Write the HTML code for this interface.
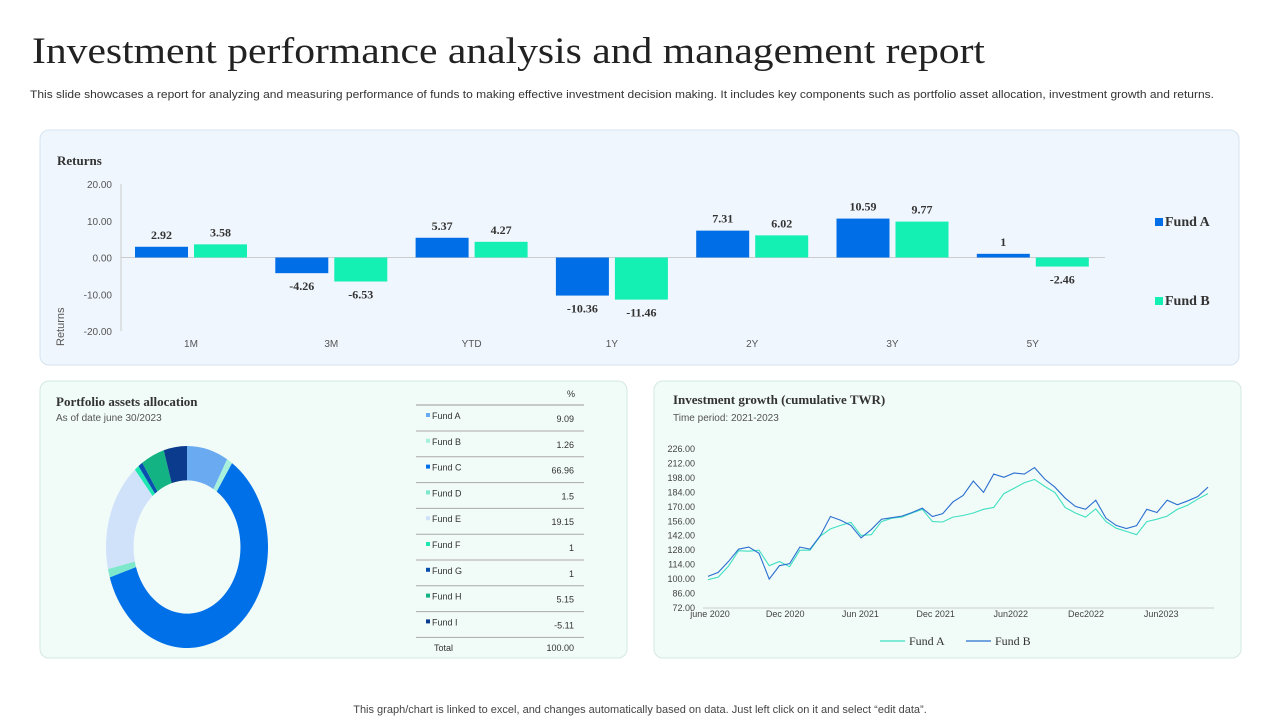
<!DOCTYPE html>
<html><head><meta charset="utf-8"><style>
body{margin:0;background:#fff;}
svg{display:block;font-family:"Liberation Sans",sans-serif;}
.serif{font-family:"Liberation Serif",serif;}
</style></head><body>
<svg id="page" width="1280" height="720" viewBox="0 0 1280 720">
<text class="serif" x="32" y="63" font-size="37" fill="#222" textLength="953" lengthAdjust="spacingAndGlyphs">Investment performance analysis and management report</text>
<text x="30" y="98" font-size="11" fill="#333" textLength="1184" lengthAdjust="spacingAndGlyphs">This slide showcases a report for analyzing and measuring performance of funds to making effective investment decision making. It includes key components such as portfolio asset allocation, investment growth and returns.</text>

<rect x="40" y="130" width="1199" height="235" rx="9" fill="#f0f6fd" stroke="#d5e3ef"/>
<text class="serif" x="57" y="165" font-size="13" font-weight="bold" fill="#333">Returns</text>
<g id="bars"></g>

<rect x="40" y="381" width="587" height="277" rx="9" fill="#f1fbf8" stroke="#d3e8e1"/>
<text class="serif" x="56" y="406" font-size="13" font-weight="bold" fill="#333">Portfolio assets allocation</text>
<text x="56" y="421" font-size="10" fill="#555">As of date june  30/2023</text>
<g id="donut"></g>
<g id="table"></g>

<rect x="654" y="381" width="587" height="277" rx="9" fill="#f1fbf8" stroke="#d3e8e1"/>
<text class="serif" x="673" y="404" font-size="13" font-weight="bold" fill="#333">Investment growth (cumulative TWR)</text>
<text x="673" y="421" font-size="10" fill="#555">Time  period: 2021-2023</text>
<g id="lines"></g>

<text x="640" y="713" font-size="11" fill="#444" text-anchor="middle">This graph/chart is linked to excel,  and changes automatically based on data. Just left click on it and select “edit data”.</text>
</svg>
<script>
const NS='http://www.w3.org/2000/svg';
const categories=['1M','3M','YTD','1Y','2Y','3Y','5Y'];
const fundA=[2.92,-4.26,5.37,-10.36,7.31,10.59,1];
const fundB=[3.58,-6.53,4.27,-11.46,6.02,9.77,-2.46];
const yTicks=[20,10,0,-10,-20];
const fundNames=['Fund A','Fund B','Fund C','Fund D','Fund E','Fund F','Fund G','Fund H','Fund I'];
const allocation=[9.09,1.26,66.96,1.5,19.15,1,1,5.15,-5.11];
const growthA=[99.4,101.9,112.4,127.5,127,128,113,117,112,128,128,141.6,148.6,152,155,142.3,143,155.7,159,160,164,167.6,155.7,155.3,160,161.6,164,167.6,169.4,182.8,188,193.3,196.5,189.8,183.8,169.4,164,160,168,155.7,149.3,146.2,143,155.7,158,161,167.6,171.5,177.5,182.8];
const growthB=[102.6,106.5,117,129,131,125,100,113,115,131,129,142,160.6,157,152,140,148,158,159.5,161,164.5,168.7,160.6,163.4,174.7,181,195,184,201.7,198.6,202.8,201.7,208,196.8,189,178.5,170.4,167.6,176.4,159,152,149,151.8,167.6,164.5,176.4,172,175.7,180,189];
const growthTicks=[226,212,198,184,170,156,142,128,114,100,86,72];
const growthXLabels=['june 2020','Dec 2020','Jun 2021','Dec 2021','Jun2022','Dec2022','Jun2023'];

function mk(tag,attrs,parent,txt){const e=document.createElementNS(NS,tag);for(const k in attrs)e.setAttribute(k,attrs[k]);if(txt!==undefined)e.textContent=txt;parent.appendChild(e);return e;}

// Bars
const bars=document.getElementById('bars');
const by=v=>257.5-v*3.675;
const bx=i=>191+i*140.3;
yTicks.forEach(t=>{const e=mk('text',{x:112,y:by(t)+4,'font-size':10,fill:'#555','text-anchor':'end'},bars,t.toFixed(2));

});
mk('line',{x1:121,y1:by(20),x2:121,y2:by(-20),stroke:'#ccc'},bars);
mk('line',{x1:121,y1:by(0),x2:1105,y2:by(0),stroke:'#ccc'},bars);
const yt=mk('text',{x:0,y:0,'font-size':11,fill:'#555',transform:'translate(64,346) rotate(-90)'},bars,'Returns');


categories.forEach((c,i)=>{
  const l=mk('text',{x:bx(i),y:347,'font-size':10,fill:'#555','text-anchor':'middle'},bars,c);
  
  
  [[fundA[i],-56,'#006ee6'],[fundB[i],3,'#14efb4']].forEach(([v,off,col])=>{
    const x=bx(i)+off;
    const r=mk('rect',{x:x,y:Math.min(by(v),by(0)),width:53,height:Math.abs(by(v)-by(0)),fill:col},bars);
    
    
    const ly=v>=0?by(v)-8:by(v)+17;
    const t=mk('text',{x:x+26.5,y:ly,'font-size':12,'font-weight':'bold',fill:'#333','text-anchor':'middle','font-family':'Liberation Serif,serif'},bars,String(v));
    
    
  });
});
[['Fund A',222,'#006ee6'],['Fund B',301,'#14efb4']].forEach(([n,y,col])=>{
  const g=mk('g',{},bars);
  
  
  mk('rect',{x:1155,y:y-4,width:8,height:8,fill:col},g);
  mk('text',{x:1165,y:y+4,'font-size':14,'font-weight':'bold',fill:'#333','font-family':'Liberation Serif,serif'},g,n);
});

// Donut
const donut=document.getElementById('donut');
const dcols=['#6aaaf0','#a6f0dc','#0070e8','#7de8cc','#cfe2fa','#1ee6b0','#0a4fb0','#14b383','#0b3b8c'];
const tot=allocation.reduce((s,v)=>s+Math.abs(v),0);
const cx=187,cy=547,rx=81,ry=101,k=0.66;
let a0=0;
allocation.forEach((v,i)=>{
  const a1=a0+Math.abs(v)/tot*2*Math.PI;
  const p=(a,f)=>[cx+rx*f*Math.sin(a),cy-ry*f*Math.cos(a)];
  const [x0,y0]=p(a0,1),[x1,y1]=p(a1,1),[x2,y2]=p(a1,k),[x3,y3]=p(a0,k);
  const lg=(a1-a0)>Math.PI?1:0;
  const s=mk('path',{d:`M${x0},${y0}A${rx},${ry} 0 ${lg} 1 ${x1},${y1}L${x2},${y2}A${rx*k},${ry*k} 0 ${lg} 0 ${x3},${y3}Z`,fill:dcols[i]},donut);
  
  
  a0=a1;
});

// Table
const table=document.getElementById('table');
mk('text',{x:571,y:397,'font-size':9,fill:'#333','text-anchor':'middle'},table,'%');
mk('line',{x1:416,y1:405,x2:584,y2:405,stroke:'#999'},table);
fundNames.forEach((n,i)=>{
  const y=419+i*25.8;
  mk('rect',{x:426,y:y-6,width:4,height:4,fill:dcols[i]},table);
  const t=mk('text',{x:432,y:y,'font-size':9,fill:'#333'},table,n);
  
  
  mk('text',{x:574,y:y+3,'font-size':9,fill:'#333','text-anchor':'end'},table,String(allocation[i]));
  mk('line',{x1:416,y1:y+12,x2:584,y2:y+12,stroke:'#aaa'},table);
});
mk('text',{x:434,y:651,'font-size':9,fill:'#333'},table,'Total');
mk('text',{x:574,y:651,'font-size':9,fill:'#333','text-anchor':'end'},table,'100.00');

// Lines
const lines=document.getElementById('lines');
const ly=v=>449+(226-v)*(159/154);
const lx=i=>708+i*(500/(growthA.length-1));
growthTicks.forEach(t=>{const e=mk('text',{x:695,y:ly(t)+3,'font-size':9,fill:'#444','text-anchor':'end'},lines,t.toFixed(2));

});
mk('line',{x1:703,y1:ly(72),x2:1214,y2:ly(72),stroke:'#ccc'},lines);
growthXLabels.forEach((l,i)=>{const e=mk('text',{x:710+i*75.2,y:607+10,'font-size':9,fill:'#444','text-anchor':'middle'},lines,l);

});
[[growthA,'#3fe0c0'],[growthB,'#2a6fd0']].forEach(([arr,col])=>{
  const l=mk('polyline',{points:arr.map((v,i)=>lx(i)+','+ly(v)).join(' '),fill:'none',stroke:col,'stroke-width':1.1},lines);
  
  
});
[['Fund A',880,'#3fe0c0'],['Fund B',966,'#2a6fd0']].forEach(([n,x,col])=>{
  const g=mk('g',{},lines);
  
  
  mk('line',{x1:x,y1:641,x2:x+25,y2:641,stroke:col,'stroke-width':1.2},g);
  mk('text',{x:x+29,y:645,'font-size':12,fill:'#333','font-family':'Liberation Serif,serif'},g,n);
});
</script>
</body></html>
